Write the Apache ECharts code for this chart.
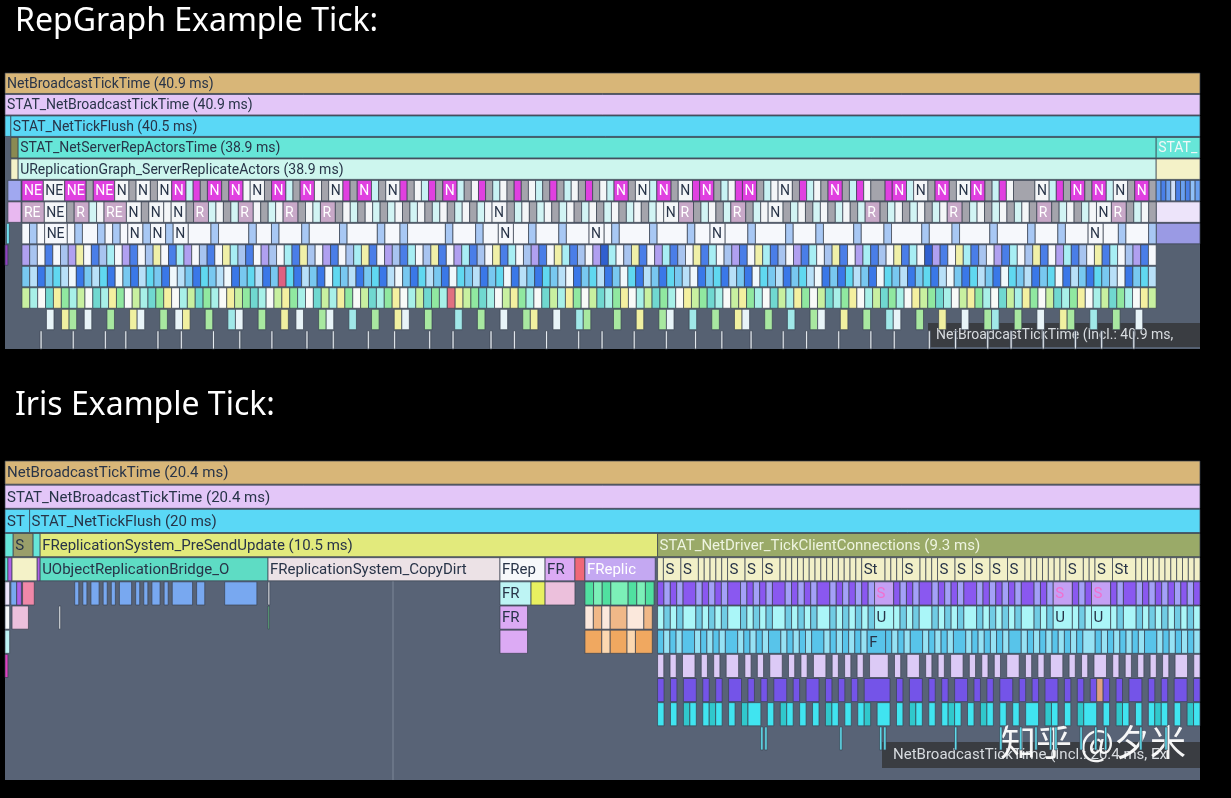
<!DOCTYPE html>
<html>
<head>
<meta charset="utf-8">
<script src="https://cdn.jsdelivr.net/npm/echarts@6/dist/echarts.min.js"></script>
<style>html,body{margin:0;background:#000;}#main{width:1231px;height:798px;}</style>
</head>
<body>
<div id="main"></div>
<script>
// ---- data: RepGraph tick (ms) ----
let topTotal = 40.9;
let topBars = [ // [start, end, row, label, colourKey]
    [0, 40.9, 0, 'NetBroadcastTickTime (40.9 ms)', 'tan'],
    [0, 40.9, 1, 'STAT_NetBroadcastTickTime (40.9 ms)', 'lav'],
    [0, 0.2, 2, 'S', 'sky'],
    [0.2, 40.9, 2, 'STAT_NetTickFlush (40.5 ms)', 'sky'],
    [0.2, 0.45, 3, '', 'olive'],
    [0.45, 39.4, 3, 'STAT_NetServerRepActorsTime (38.9 ms)', 'teal'],
    [39.4, 40.9, 3, 'STAT_', 'tealw'],
    [0.2, 0.45, 4, '', 'pyel'],
    [0.45, 39.4, 4, 'UReplicationGraph_ServerReplicateActors (38.9 ms)', 'mint'],
    [39.4, 40.9, 4, '', 'pyel'],
    [0.1, 0.55, 5, '', 'lavblue'],
    [0.1, 0.55, 6, '', 'pinklav'],
    [0.05, 0.15, 7, '', 'cyan'],
    [0, 0.1, 8, '', 'purple'],
    [39.4, 40.9, 6, '', 'palelav'],
    [39.4, 40.9, 7, '', 'peri']
];
let topRow5 = "EEEVVVFFFgEEEWWgXXgWWMMcmgOOgMMwXXgOOcgMMwgWWmgOOcgXXmgwcmgMMcgwmgcwgmgwcgmgcwgmgwcMMgWWcOOgXXmMMgcwmOOgcwXXgmcwgOOgcmwggmMMcXXgMMgWWOOgcmwgggXXcmgMMgOOcWWgMMg";
let topRow6 = "EEEVVVgRRcwEEEWWgXXwWWgRRcwgcRRwgcwRRgwcRRgwcgwcgcwgcwgcwgcwgcwXXgcwgcwgcwgcwgcwgcwgcwWWRRgcwgcRRgcwXXgcwgcwgcwgcRRgcwgcwgcwRRgcwgcwgcwgRRgcwgcwXXRRgcwg";
let topRow7 = "wbwVVVwbwwbwbwWWbWWbWWwwwbwwwwbwwbwwwbwwwwbwwwwbwwbwwwwwbwwwbwwWWwwbwwwbwwwWWwbwwwwbwwwwbwwWWwwwbwwwwbwwwbwwwwbwwwbwwwwbwwwbwwwwbwwwwbwwwbwwwWWwwbwwwb";
let topRow8 = "vlwBwlvywBlcwvBwlywBcvwlBwyclBwvlwcBylwvBwlcyBwvlBcwlyBwvcBlwyBcwlvBwycBlwvdcwlyBwvcBlwyBcwlvBwycBlwvBcwlyBwvcBlwyBcwdvBwycBlwvBcwlyBwvcBlwyBcwlvBw";
let topRow9 = "alBaclwBalcBwaBlcaBwlaBcalwBaclBarcBlaBwcalBacBlwaBclaBwcalBacwBlaBcalwBaclBawcBlaBcalwBacBlaBwcalBaclwBaBclaBwcalBacBlwaBclaBwcalBacwBlaBcalwBacl";
let topRow10 = "gcwtyGcgwtcyGwgctGywcgtGcwygGtcwgyGcwtgcyGwgtcGywcgtGcrygGtcwgyGcwtgcyGwgtcGywcgtGcwygGtcwgyGcwtgcyGwgtcGywcgtGcwygGtcwgyGcwtgcyGwgtcGywcgtGcwyg";
let topRow11 = "..w.yg.w..g..yw..g.wy..g..cw..g..y.w..gw..c..g..yw..g...c..g..w..gy..w..cg...g..y..gw..c..g..yw..g..c..gw..y..g..cw..g..y..w..gc..g..w..yg..c..g..w.";
let topTail5 = "bBbwBbBlb";
let topTicks = [1.2, 2.3, 3.4, 4.1, 5.2, 6.0, 7.1, 8.0, 9.1, 10.3, 11.2, 12.4, 13.3, 14.5, 15.3, 16.6, 17.4, 18.5, 19.6, 20.4,
    21.5, 22.6, 23.6, 24.5, 25.5, 26.6, 27.4, 28.5, 29.6, 30.4, 31.6, 32.5, 33.6, 34.4, 35.5, 36.6, 37.5, 38.6];

// ---- data: Iris tick (ms) ----
let botTotal = 20.4;
let botBars = [
    [0, 20.4, 0, 'NetBroadcastTickTime (20.4 ms)', 'tan'],
    [0, 20.4, 1, 'STAT_NetBroadcastTickTime (20.4 ms)', 'lav'],
    [0, 0.42, 2, 'ST', 'sky'],
    [0.42, 20.4, 2, 'STAT_NetTickFlush (20 ms)', 'sky'],
    [0, 0.14, 3, '', 'teal'],
    [0.14, 0.48, 3, 'S', 'olive2'],
    [0.48, 0.6, 3, '', 'teal'],
    [0.6, 11.14, 3, 'FReplicationSystem_PreSendUpdate (10.5 ms)', 'yellow'],
    [11.14, 20.4, 3, 'STAT_NetDriver_TickClientConnections (9.3 ms)', 'green'],
    [0, 0.05, 4, '', 'teal'],
    [0.05, 0.12, 4, '', 'violet'],
    [0.12, 0.55, 4, '', 'pyel'],
    [0.55, 0.6, 4, '', 'violet'],
    [0.6, 4.49, 4, 'UObjectReplicationBridge_O', 'teal2'],
    [4.49, 8.45, 4, 'FReplicationSystem_CopyDirt', 'pgray'],
    [8.45, 9.22, 4, 'FRep', 'white'],
    [9.22, 9.73, 4, 'FR', 'lav2'],
    [9.73, 9.9, 4, '', 'red'],
    [9.9, 11.1, 4, 'FReplic', 'lav3'],
    [0, 0.08, 5, '', 'palelav'],
    [0.1, 0.2, 5, '', 'blue'],
    [0.2, 0.28, 5, '', 'violet'],
    [0.3, 0.5, 5, '', 'pink'],
    [3.75, 4.3, 5, '', 'blue'],
    [4.49, 4.52, 5, '', 'white'],
    [8.45, 8.98, 5, 'FR', 'lcyan'],
    [8.98, 9.22, 5, '', 'yel2'],
    [9.22, 9.73, 5, '', 'ppink'],
    [0, 0.08, 6, '', 'white'],
    [0.12, 0.4, 6, '', 'ppink'],
    [0.92, 0.95, 6, '', 'white'],
    [4.49, 4.51, 6, '', 'green2'],
    [8.45, 8.92, 6, 'FR', 'lav2'],
    [0, 0.08, 7, '', 'lcyan'],
    [8.45, 8.92, 7, '', 'lav2'],
    [0, 0.05, 8, '', 'magenta']
];
let botRow5Blue = "b.b.bb.b.b.bbb.b.b.bb.b.bbbbb.bb";
let botRow5Green = "gGgGGgGg";
let botRow6Orange = "wowoowwo";
let botRow7Orange = "ooOooOoo";
let botRow4 = "ySSSPPPyzyzySSSPPPSSSyzyzyzyzyzyzyzTTTTzyzSSSyzySSSPPPSSSPPPSSSzyzyzyzPPPyzSSSTTTTzyzyzyzyzyz";
let botRow5 = "pqpqppqpqpqppqpqpqppqpqpqppqpqpqpqSSSpqpqppqpqpqppqpqpqpqppqpqSSSpqpSSSpqppqpqpqpqpqp";
let botRow6 = "cdcdccdcdcdccdcdcdccdcdcdccdcdcdcdUUUcdcdccdcdcdccdcdcdcdccdcdUUUcdcUUUcdccdcdcdcdcdc";
let botRow7 = "clclcclclclcclclclcclclclcclclclclFFFclclcclclclcclclclclcclclclclclcllclclclclcclclclcl";
let botRow8 = "l.l.ll.l.l.ll.l.l.ll.l.l.ll.l.l.l.lll.l.ll.l.l.ll.l.l.l.ll.l.l.ll.l.l.ll.l.l.l.l.l.ll.l";
let botRow9 = "p.p.pp.p.p.pp.p.p.pp.p.pp.p.p.p.pppp.p.pp.p.p.pp.p.p.pp.p.p.pp.p.p.pop.p.pp.p.p.pp.p";
let botRow10 = "c.c.tc.ctc.c.tcc.c.tc.c.c.tc.c.ct.cc.c.tc.c.ctc.c.tc.c.c.cc.tc.c.tcc.c.tc.c.ctc.c.tc";
let botTicks = [12.9, 12.97, 14.25, 14.93, 15.0, 16.21, 16.98, 17.32, 17.58, 17.83, 17.92, 18.35, 18.6, 18.77, 19.37, 19.8];

// ---- colours ----
const C = {
    tan: '#d8b678', lav: '#e3c6f8', sky: '#5ad8f6', olive: '#8a8a52', olive2: '#9a9e6a', teal: '#66e6d8', tealw: '#66e6d8',
    pyel: '#f4f2c8', mint: '#cdf6ee', lavblue: '#a0a8f0', pinklav: '#e8b8f0', cyan: '#70e0f0', purple: '#9040c0',
    palelav: '#ede4fa', peri: '#9a9ae4', yellow: '#e2ea7c', green: '#9aaa68', violet: '#b060e8', teal2: '#5edcc4',
    pgray: '#ece2e6', white: '#f6f8fa', lav2: '#dcaaf4', red: '#f06878', lav3: '#c4a8f2', blue: '#78a8f0',
    pink: '#f088a8', lcyan: '#bdf4f4', yel2: '#e8f060', ppink: '#ecc0dc', green2: '#70e090', magenta: '#e040c0'
};
const TXT = { tealw: '#f0f8f8', green: '#eef4e0', lav3: '#ffffff' };

const palTop5 = { E: ['#e040e0', 'NE', '#fff'], F: ['#e040e0', 'NE', '#fff'], V: ['#f4f6f8', 'NE'], M: ['#e040e0', 'N', '#fff'], O: ['#e040e0', 'N', '#fff'],
    W: ['#f4f6f8', 'N'], X: ['#f4f6f8', 'N'], m: ['#e040e0'], g: ['#a4a4ac'], w: ['#f4f6f8'], c: ['#c8f2f4'] };
const palTop6 = { E: ['#c8a8c8', 'RE', '#fff'], R: ['#c8a8c8', 'R', '#fff'], V: ['#f4f6f8', 'NE'], W: ['#f4f6f8', 'N'], X: ['#f4f6f8', 'N'],
    g: ['#a4a4ac'], w: ['#f4f6f8'], c: ['#d2f4f4'] };
const palTop7 = { w: ['#f6f8fc'], b: ['#a8c8f4'], V: ['#f6f8fc', 'NE'], W: ['#f6f8fc', 'N'] };
const palTop8 = { v: ['#b0a0f0'], l: ['#a8c4f0'], w: ['#f6f8fc'], B: ['#4a7ee8'], y: ['#f0f0a8'], c: ['#a8eef4'], d: ['#3060d0'] };
const palTop9 = { a: ['#78c8f0'], B: ['#3a78e8'], l: ['#b8e0f8'], w: ['#f0f8fc'], c: ['#60d8f0'], r: ['#e06080'] };
const palTop10 = { g: ['#c8f0a0'], c: ['#a8f0e8'], w: ['#f8faf8'], y: ['#f4f0a0'], G: ['#90e8a0'], t: ['#70d8d0'], r: ['#e07080'] };
const palTop11 = { y: ['#f0f0a0'], g: ['#a8e8a0'], w: ['#e8f4f8'], c: ['#a0e8e8'] };
const palTail5 = { b: ['#6aa0f0'], B: ['#4a80e8'], w: ['#d0e0fa'], l: ['#90c0f8'] };
const palB4 = { y: ['#f2f0c8'], z: ['#f2f0c8'], S: ['#f2f0c8', 'S'], P: ['#f2f0c8', 'S'], T: ['#f2f0c8', 'St'] };
const palB5 = { p: ['#8a58f0'], q: ['#a4a0f8'], S: ['#c4a0f4', 'S', '#f070d0'] };
const palB6 = { c: ['#aaf6f8'], d: ['#70cce4'], U: ['#aaf6f8', 'U'] };
const palB7 = { c: ['#58c4ea'], l: ['#96e2f4'], F: ['#58c4ea', 'F'] };
const palB8 = { l: ['#dccaf6'] };
const palB9 = { p: ['#7454e8'], o: ['#e0a080'] };
const palB10 = { c: ['#40e4f0'], t: ['#30c8cc'] };
const palBlue = { b: ['#78a8f0'] };
const palGreen = { g: ['#50e0a0'], G: ['#7cf0b8'] };
const palOr6 = { w: ['#fbe8dc'], o: ['#f0b888'] };
const palOr7 = { o: ['#f0a860'], O: ['#fcd8b0'] };

function stripes(list, row, from, to, pattern, pal) {
    let slot = (to - from) / pattern.length;
    let i = 0;
    while (i < pattern.length) {
        let ch = pattern[i], j = i;
        while (j < pattern.length && pattern[j] === ch) j++;
        if (ch !== '.') {
            let p = pal[ch];
            list.push({ value: [from + i * slot, from + j * slot, row], text: p[1] || '', color: p[0], tc: p[2] });
        }
        i = j;
    }
}
function ticks(list, row, arr, w, color) {
    arr.forEach(function (t) { list.push({ value: [t, t + w, row], text: '', color: color }); });
}
function fixed(list, arr) {
    arr.forEach(function (b) { list.push({ value: [b[0], b[1], b[2]], text: b[3], color: C[b[4]], tc: TXT[b[4]] }); });
}

let topData = [], botData = [];
fixed(topData, topBars);
stripes(topData, 5, 0.58, 39.4, topRow5, palTop5);
stripes(topData, 6, 0.58, 39.4, topRow6, palTop6);
stripes(topData, 7, 0.58, 39.4, topRow7, palTop7);
stripes(topData, 8, 0.58, 39.4, topRow8, palTop8);
stripes(topData, 9, 0.58, 39.4, topRow9, palTop9);
stripes(topData, 10, 0.58, 39.4, topRow10, palTop10);
stripes(topData, 11, 0.9, 39.2, topRow11, palTop11);
stripes(topData, 5, 39.4, 40.9, topTail5, palTail5);
ticks(topData, 12, topTicks, 0.07, '#e8eef4');

fixed(botData, botBars);
stripes(botData, 5, 1.19, 3.41, botRow5Blue, palBlue);
stripes(botData, 5, 9.9, 11.08, botRow5Green, palGreen);
stripes(botData, 6, 9.9, 11.05, botRow6Orange, palOr6);
stripes(botData, 7, 9.9, 11.05, botRow7Orange, palOr7);
stripes(botData, 4, 11.14, 20.4, botRow4, palB4);
stripes(botData, 5, 11.14, 20.4, botRow5, palB5);
stripes(botData, 6, 11.14, 20.4, botRow6, palB6);
stripes(botData, 7, 11.14, 20.4, botRow7, palB7);
stripes(botData, 8, 11.14, 20.4, botRow8, palB8);
stripes(botData, 9, 11.14, 20.4, botRow9, palB9);
stripes(botData, 10, 11.14, 20.4, botRow10, palB10);
ticks(botData, 11, botTicks, 0.04, '#60e0f0');

function makeRender(list, fontSize) {
    return function (params, api) {
        let d = list[params.dataIndex];
        let s = api.coord([api.value(0), api.value(2)]);
        let e = api.coord([api.value(1), api.value(2) + 1]);
        let rect = echarts.graphic.clipRectByRect(
            { x: s[0], y: s[1], width: Math.max(e[0] - s[0], 1.2), height: e[1] - s[1] - 1 },
            params.coordSys);
        if (!rect) return;
        let children = [{ type: 'rect', shape: rect, style: { fill: d.color, stroke: '#3a4250', lineWidth: 0.7 } }];
        if (d.text && rect.width > 8) {
            children.push({
                type: 'text',
                style: {
                    text: d.text, x: rect.x + 2, y: rect.y + rect.height / 2 + 1, verticalAlign: 'middle',
                    fill: d.tc || '#283448', font: fontSize + 'px Roboto',
                    width: rect.width - 1, overflow: 'truncate', ellipsis: ''
                }
            });
        }
        return { type: 'group', children: children };
    };
}

let myChart = echarts.init(document.getElementById('main'));
let option = {
    backgroundColor: '#000',
    animation: false,
    grid: [
        { left: 5, top: 73, width: 1195, height: 276, show: true, backgroundColor: '#566172', borderWidth: 0 },
        { left: 5, top: 461, width: 1195, height: 319, show: true, backgroundColor: '#586376', borderWidth: 0 }
    ],
    xAxis: [
        { type: 'value', gridIndex: 0, min: 0, max: topTotal, show: false },
        { type: 'value', gridIndex: 1, min: 0, max: botTotal, show: false }
    ],
    yAxis: [
        { type: 'value', gridIndex: 0, min: 0, max: 12.85, inverse: true, show: false },
        { type: 'value', gridIndex: 1, min: 0, max: 13.2, inverse: true, show: false }
    ],
    series: [
        { type: 'custom', xAxisIndex: 0, yAxisIndex: 0, renderItem: makeRender(topData, 14), encode: { x: [0, 1], y: 2 },
            data: topData.map(function (d) { return d.value; }) },
        { type: 'custom', xAxisIndex: 1, yAxisIndex: 1, renderItem: makeRender(botData, 15), encode: { x: [0, 1], y: 2 },
            data: botData.map(function (d) { return d.value; }) }
    ],
    graphic: [
        { type: 'text', left: 15, top: 6, style: { text: 'RepGraph Example Tick:', fill: '#fff', font: '32px "Noto Sans"' } },
        { type: 'text', left: 15, top: 390, style: { text: 'Iris Example Tick:', fill: '#fff', font: '32px "Noto Sans"' } },
        { type: 'line', shape: { x1: 393, y1: 581, x2: 393, y2: 780 }, style: { stroke: '#7d8898', lineWidth: 1 } },
        { type: 'rect', shape: { x: 928, y: 323, width: 272, height: 24 }, style: { fill: '#3a3d42' } },
        { type: 'text', x: 936, y: 335, style: { text: 'NetBroadcastTickTime (Incl.: 40.9 ms,', fill: '#d8dce0', font: '14px Roboto', verticalAlign: 'middle' } },
        { type: 'rect', shape: { x: 882, y: 742, width: 318, height: 26 }, style: { fill: '#3a3d42' } },
        { type: 'text', x: 893, y: 755, style: { text: 'NetBroadcastTickTime (Incl.: 20.4 ms, Ex', fill: '#d8dce0', font: '15px Roboto', verticalAlign: 'middle', width: 305, overflow: 'truncate', ellipsis: '' } },
        { type: 'text', x: 1000, y: 724, style: { text: '知乎 @夕米', fill: '#ffffff', font: '36px "Noto Sans CJK SC"', opacity: 0.95 } }
    ]
};
myChart.setOption(option);
</script>
</body>
</html>
